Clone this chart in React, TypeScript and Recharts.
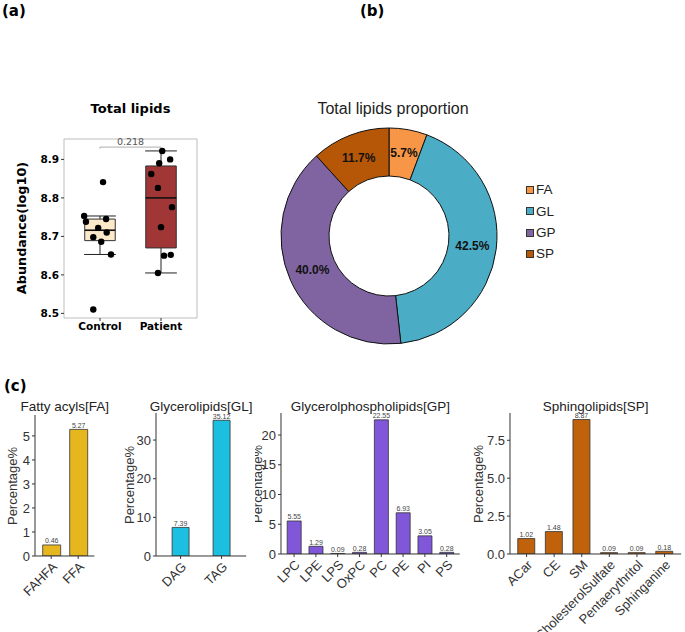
import React from 'react';
import {
  ComposedChart,
  Scatter,
  XAxis,
  YAxis,
  ReferenceArea,
  ReferenceLine,
  ReferenceDot,
  PieChart,
  Pie,
  Cell,
  Legend,
  BarChart,
  Bar,
  LabelList,
} from 'recharts';

const SANS = '"Liberation Sans", Arial, sans-serif';
const GG = '"DejaVu Sans", sans-serif';

// (a) total lipids box plot
const groups = ['Control', 'Patient'];
const controlAbundance = [8.841, 8.753, 8.745, 8.738, 8.722, 8.71, 8.698, 8.686, 8.653, 8.51];
const controlJitter = [0.05, -0.26, 0.1, -0.23, -0.03, 0.11, -0.11, 0.02, 0.18, -0.11];
const patientAbundance = [8.922, 8.9, 8.89, 8.862, 8.826, 8.776, 8.724, 8.652, 8.65, 8.605];
const patientJitter = [0.02, 0.15, -0.03, -0.16, -0.05, 0.18, 0.0, 0.16, 0.05, -0.05];
const whiskerLow = [8.653, 8.605];
const boxQ1 = [8.689, 8.67];
const boxMedian = [8.716, 8.8];
const boxQ3 = [8.745, 8.883];
const whiskerHigh = [8.753, 8.922];
const boxFills = ['#fbe8c6', '#9b2b2b'];
const abundanceTicks = [8.5, 8.6, 8.7, 8.8, 8.9];
const pValue = '0.218';
const bracketY = 8.932;

// (b) proportion donut
const classNames = ['FA', 'GL', 'GP', 'SP'];
const classShares = [5.7, 42.5, 40.0, 11.7];
const classColors = ['#f79646', '#4bacc6', '#8064a2', '#b65708'];

// (c) subclass bars
const faNames = ['FAHFA', 'FFA'];
const faValues = [0.46, 5.27];
const glNames = ['DAG', 'TAG'];
const glValues = [7.39, 35.12];
const gpNames = ['LPC', 'LPE', 'LPS', 'OxPC', 'PC', 'PE', 'PI', 'PS'];
const gpValues = [5.55, 1.29, 0.09, 0.28, 22.55, 6.93, 3.05, 0.28];
const spNames = ['ACar', 'CE', 'SM', 'CholesterolSulfate', 'Pentaerythritol', 'Sphinganine'];
const spValues = [1.02, 1.48, 8.87, 0.09, 0.09, 0.18];

const X_DOMAIN = [0.41, 2.59];
const Y_DOMAIN = [8.488, 8.953];

function CText({ x, y, text, size, bold, family, color }: any) {
  return (
    <div
      style={{
        position: 'absolute',
        left: x,
        top: y,
        transform: 'translate(-50%, -50%)',
        whiteSpace: 'nowrap',
        fontSize: size,
        fontWeight: bold ? 700 : 400,
        fontFamily: family,
        lineHeight: 1,
        color: color || '#222',
      }}
    >
      {text}
    </div>
  );
}

function VText({ x, y, text, size, bold, family, color }: any) {
  return (
    <div
      style={{
        position: 'absolute',
        left: x,
        top: y,
        transform: 'translate(-50%, -50%) rotate(-90deg)',
        whiteSpace: 'nowrap',
        fontSize: size,
        fontWeight: bold ? 700 : 400,
        fontFamily: family,
        lineHeight: 1,
        color: color || '#222',
      }}
    >
      {text}
    </div>
  );
}

const dot = (p: any) => <circle cx={p.cx} cy={p.cy} r={3.2} fill="#000" />;

function TotalLipidsBox() {
  const controlPoints = controlAbundance.map((y, i) => ({ x: 1 + controlJitter[i], y }));
  const patientPoints = patientAbundance.map((y, i) => ({ x: 2 + patientJitter[i], y }));
  return (
    <div style={{ position: 'absolute', left: 0, top: 90, width: 210, height: 250 }}>
      <ComposedChart width={210} height={250} margin={{ top: 49, right: 13, bottom: 0, left: 30 }}>
        <XAxis
          type="number"
          dataKey="x"
          domain={X_DOMAIN}
          ticks={[1, 2]}
          allowDataOverflow
          interval={0}
          tickFormatter={(v: number) => groups[Math.round(v) - 1]}
          height={22}
          tickSize={3}
          axisLine={false}
          tickLine={{ stroke: '#333' }}
          tick={{ fill: '#000', fontSize: 10.5, fontWeight: 700, fontFamily: GG }}
        />
        <YAxis
          type="number"
          dataKey="y"
          domain={Y_DOMAIN}
          ticks={abundanceTicks}
          allowDataOverflow
          width={34}
          tickSize={3}
          axisLine={false}
          tickLine={{ stroke: '#333' }}
          tickFormatter={(v: number) => v.toFixed(1)}
          tick={{ fill: '#000', fontSize: 10.5, fontWeight: 700, fontFamily: GG }}
        />
        <ReferenceArea
          x1={X_DOMAIN[0]}
          x2={X_DOMAIN[1]}
          y1={Y_DOMAIN[0]}
          y2={Y_DOMAIN[1]}
          fill="none"
          fillOpacity={0}
          stroke="#bdbdbd"
          strokeWidth={1}
        />
        {groups.map((g, i) => {
          const c = i + 1;
          return (
            <React.Fragment key={g}>
              <ReferenceLine segment={[{ x: c, y: whiskerLow[i] }, { x: c, y: boxQ1[i] }]} stroke="#222" />
              <ReferenceLine segment={[{ x: c, y: boxQ3[i] }, { x: c, y: whiskerHigh[i] }]} stroke="#222" />
              <ReferenceLine segment={[{ x: c - 0.26, y: whiskerLow[i] }, { x: c + 0.26, y: whiskerLow[i] }]} stroke="#222" />
              <ReferenceLine segment={[{ x: c - 0.26, y: whiskerHigh[i] }, { x: c + 0.26, y: whiskerHigh[i] }]} stroke="#222" />
              <ReferenceArea
                x1={c - 0.25}
                x2={c + 0.25}
                y1={boxQ1[i]}
                y2={boxQ3[i]}
                fill={boxFills[i]}
                fillOpacity={0.95}
                stroke="#333"
                strokeWidth={1}
              />
              <ReferenceLine segment={[{ x: c - 0.25, y: boxMedian[i] }, { x: c + 0.25, y: boxMedian[i] }]} stroke="#111" strokeWidth={1.6} />
            </React.Fragment>
          );
        })}
        <ReferenceLine segment={[{ x: 1, y: bracketY }, { x: 2, y: bracketY }]} stroke="#999" strokeWidth={0.8} />
        <ReferenceLine segment={[{ x: 1, y: bracketY }, { x: 1, y: bracketY - 0.004 }]} stroke="#999" strokeWidth={0.8} />
        <ReferenceLine segment={[{ x: 2, y: bracketY }, { x: 2, y: bracketY - 0.004 }]} stroke="#999" strokeWidth={0.8} />
        <ReferenceDot
          x={1.5}
          y={bracketY}
          r={0}
          fill="none"
          stroke="none"
          label={{ value: pValue, position: 'top', offset: 2, fill: '#555', fontSize: 9.5, fontFamily: GG }}
        />
        <Scatter data={controlPoints} fill="#000" shape={dot} isAnimationActive={false} />
        <Scatter data={patientPoints} fill="#000" shape={dot} isAnimationActive={false} />
      </ComposedChart>
    </div>
  );
}

const renderShare = (p: any) => {
  const r = (p.innerRadius + p.outerRadius) / 2;
  const a = (-p.midAngle * Math.PI) / 180;
  return (
    <text
      x={p.cx + r * Math.cos(a)}
      y={p.cy + r * Math.sin(a)}
      textAnchor="middle"
      dominantBaseline="central"
      fontSize={12}
      fontWeight={700}
      fill="#111"
      fontFamily={SANS}
    >
      {`${Number(p.value).toFixed(1)}%`}
    </text>
  );
};

function ProportionDonut() {
  const data = classNames.map((name, i) => ({ name, value: classShares[i], fill: classColors[i] }));
  return (
    <div style={{ position: 'absolute', left: 250, top: 95, width: 330, height: 260 }}>
      <PieChart width={330} height={260} margin={{ top: 0, right: 0, bottom: 0, left: 0 }}>
        <Pie
          data={data}
          dataKey="value"
          nameKey="name"
          cx={139}
          cy={141}
          innerRadius={60}
          outerRadius={108}
          startAngle={90}
          endAngle={-270}
          stroke="#111"
          strokeWidth={1}
          label={renderShare}
          labelLine={false}
          isAnimationActive={false}
        >
          {data.map((d) => (
            <Cell key={d.name} fill={d.fill} />
          ))}
        </Pie>
        <Legend
          layout="vertical"
          align="right"
          verticalAlign="top"
          wrapperStyle={{ left: 276, top: 84.5, width: 60 }}
          content={(props: any) => (
            <div>
              {(props.payload || []).map((e: any) => (
                <div key={e.value} style={{ display: 'flex', alignItems: 'center', height: 21.3 }}>
                  <span
                    style={{
                      width: 6,
                      height: 6,
                      background: classColors[classNames.indexOf(e.value)],
                      border: '1px solid #333',
                      marginRight: 2,
                    }}
                  />
                  <span style={{ fontSize: 13.5, fontFamily: SANS, color: '#222', lineHeight: 1 }}>{e.value}</span>
                </div>
              ))}
            </div>
          )}
        />
      </PieChart>
    </div>
  );
}

const SlantTick = (props: any) => {
  const { x, y, payload } = props;
  return (
    <text
      x={x}
      y={y}
      dy="0.72em"
      textAnchor="end"
      transform={`rotate(-45, ${x}, ${y})`}
      fontSize={13}
      fontFamily={SANS}
      fill="#333"
    >
      {payload.value}
    </text>
  );
};

function LipidBars(p: any) {
  const top = 395;
  const height = 632 - top;
  const data = p.names.map((name: string, i: number) => ({ name, value: p.values[i] }));
  const plotWidth = p.step * (p.names.length + 0.2);
  const yAxisW = 30;
  const chartWidth = p.plotLeft - p.wrapLeft + plotWidth + 1;
  const xAxisH = height - (p.plotBottom - top);
  const centerX = p.plotLeft - p.wrapLeft + plotWidth / 2;
  return (
    <div
      style={{
        position: 'absolute',
        left: p.wrapLeft,
        top,
        width: p.wrapWidth,
        height,
        background: p.cover ? '#fff' : 'transparent',
        zIndex: p.z,
      }}
    >
      <CText x={centerX} y={406.5 - top} text={p.title} size={13.5} family={SANS} color="#222" />
      <VText
        x={p.labelX - p.wrapLeft}
        y={(p.plotTop + p.plotBottom) / 2 - top}
        text="Percentage%"
        size={13}
        family={SANS}
        color="#333"
      />
      <BarChart
        width={chartWidth}
        height={height}
        data={data}
        margin={{ top: p.plotTop - top, right: 1, bottom: 0, left: p.plotLeft - p.wrapLeft - yAxisW }}
      >
        <XAxis
          dataKey="name"
          interval={0}
          height={xAxisH}
          padding={{ left: 0.1 * p.step, right: 0.1 * p.step }}
          tick={SlantTick}
          tickSize={3}
          axisLine={{ stroke: '#333' }}
          tickLine={{ stroke: '#333' }}
        />
        <YAxis
          width={yAxisW}
          domain={[0, p.yMax]}
          ticks={p.ticks}
          allowDataOverflow
          tickSize={3}
          axisLine={{ stroke: '#333' }}
          tickLine={{ stroke: '#333' }}
          tickFormatter={(v: number) => v.toFixed(p.digits)}
          tick={{ fill: '#333', fontSize: 13, fontFamily: SANS }}
        />
        <Bar dataKey="value" fill={p.color} stroke="#333" strokeWidth={0.8} barSize={p.barSize} isAnimationActive={false}>
          <LabelList
            dataKey="value"
            position="top"
            offset={1.5}
            fontSize={7}
            fontFamily={SANS}
            fill="#444"
            formatter={(v: any) => Number(v).toFixed(2)}
          />
        </Bar>
      </BarChart>
    </div>
  );
}

export default function App() {
  return (
    <div
      style={{
        position: 'absolute',
        left: 0,
        top: 0,
        width: 685,
        height: 632,
        background: '#fff',
        overflow: 'hidden',
        fontFamily: SANS,
      }}
    >
      <div style={{ position: 'absolute', left: 2, top: 3, fontSize: 15, fontWeight: 700, fontFamily: GG, lineHeight: '17px' }}>(a)</div>
      <div style={{ position: 'absolute', left: 360, top: 3, fontSize: 15, fontWeight: 700, fontFamily: GG, lineHeight: '17px' }}>(b)</div>
      <div style={{ position: 'absolute', left: 4, top: 378, fontSize: 15, fontWeight: 700, fontFamily: GG, lineHeight: '17px' }}>(c)</div>

      <CText x={130.5} y={108} text="Total lipids" size={13} bold family={GG} color="#000" />
      <VText x={22} y={228} text="Abundance(log10)" size={12.8} bold family={GG} color="#000" />
      <TotalLipidsBox />

      <CText x={393} y={109} text="Total lipids proportion" size={16} family={SANS} color="#222" />
      <ProportionDonut />

      <LipidBars
        title="Fatty acyls[FA]" names={faNames} values={faValues} color="#e6b61f"
        wrapLeft={0} wrapWidth={112} plotLeft={35} plotTop={415} plotBottom={556}
        step={27} barSize={18} yMax={5.87} ticks={[0, 1, 2, 3, 4, 5]} digits={0} labelX={12} z={1}
      />
      <LipidBars
        title="Glycerolphospholipids[GP]" names={gpNames} values={gpValues} color="#7f57d8"
        wrapLeft={245} wrapWidth={220} plotLeft={281} plotTop={413} plotBottom={554}
        step={21.8} barSize={14} yMax={23.7} ticks={[0, 5, 10, 15, 20]} digits={0} labelX={257} z={1}
      />
      <LipidBars
        title="Glycerolipids[GL]" names={glNames} values={glValues} color="#1cbfdf"
        wrapLeft={112} wrapWidth={143} plotLeft={156} plotTop={413} plotBottom={556}
        step={41} barSize={17} yMax={37.0} ticks={[0, 10, 20, 30]} digits={0} labelX={129} cover z={2}
      />
      <LipidBars
        title="Sphingolipids[SP]" names={spNames} values={spValues} color="#c0620b"
        wrapLeft={465} wrapWidth={220} plotLeft={510} plotTop={413} plotBottom={554}
        step={27.6} barSize={17} yMax={9.3} ticks={[0, 2.5, 5, 7.5]} digits={1} labelX={478} z={1}
      />
    </div>
  );
}
